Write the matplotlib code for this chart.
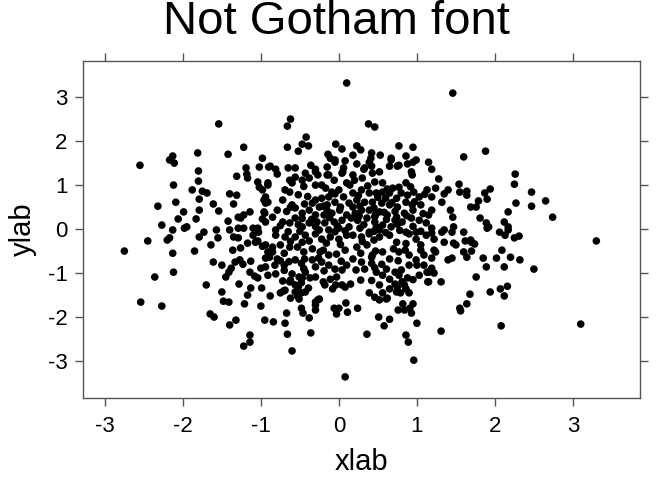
import matplotlib
matplotlib.use("Agg")
import matplotlib.pyplot as plt

# ---- data ----
x_a = [-2.75,-2.45,-2.36,-2.54,-2.27,-2.13,-2.12,-2.20,-2.17,-2.13,-2.27,-1.95,-1.98,-1.85,-1.79,-1.73,-1.64,-1.70,-1.61,-1.50,
       -1.50,-1.48,-1.41,-1.65,-1.60,-1.40,-1.32,-1.14,-1.14,-1.22,-1.28,-1.21,-1.13,-1.17,-0.99,-1.00,-0.95,-1.45,-1.41,-1.38,
       -1.33,-1.27,-1.23,-1.14,-1.13,-1.08,-1.04,-1.00,-0.91,-0.94,-1.36,-1.26,-1.17,-1.07,-0.98,-0.91,-1.35,-1.29,-1.55,-1.57,
       -1.40,-1.29,-1.22,-1.10,-1.03,-1.10,-1.04]
y_a = [-0.50,-0.27,-1.09,-1.66,-1.75,-0.55,-0.98,-0.25,-0.20,-0.02,0.09,0.05,0.02,-0.50,-0.18,-0.07,-0.36,-1.27,-0.75,-0.82,
       -1.43,-1.64,-1.66,-1.93,-2.00,-2.18,-2.07,-2.41,-2.57,-2.66,-1.25,-1.70,-1.34,-1.50,-1.34,-1.75,-2.07,-1.09,-0.98,-0.89,
       -0.75,-0.70,-0.80,-0.98,-0.73,-1.07,-1.11,-0.89,-1.05,-0.66,-0.48,-0.43,-0.32,-0.30,-0.39,-0.52,-0.18,-0.20,-0.20,-0.02,
       -0.02,0.02,0.02,0.02,-0.07,-0.14,-0.27]

x_b = [-2.55,-1.54,-1.22,-1.42,-1.81,-2.13,-2.17,-2.11,-1.80,-1.80,-2.12,-1.88,-1.75,-1.69,-2.09,-1.79,-2.32,-1.99,-1.79,-1.61,
       -1.54,-2.06,-1.83,-1.40,-1.31,-1.35,-1.31,-1.19,-1.18,-1.17,-0.98,-1.02,-1.04,-1.02,-0.98,-1.14,-0.96,-0.94,-0.91,-1.29,
       -1.26,-1.22,-1.42,-0.96,-0.98,-0.94,-1.04,-0.91,-0.90]
y_b = [1.45,2.39,1.86,1.70,1.73,1.66,1.57,1.50,1.32,1.09,1.00,0.89,0.86,0.82,0.61,0.68,0.52,0.39,0.43,0.57,
       0.41,0.23,0.23,0.80,0.77,0.57,1.20,1.39,1.25,1.16,1.61,1.41,1.07,0.95,0.89,0.39,0.66,0.59,0.61,0.27,
       0.25,0.32,0.18,0.39,0.23,0.16,0.02,1.05,1.41]

x_c = [0.10,-0.62,-0.66,0.38,0.46,-0.42,-0.47,-0.39,-0.66,-0.52,-0.04,0.04,0.23,0.28,0.77,0.95,-0.14,-0.11,-0.05,0.18,
       0.08,0.42,0.41,0.53,0.67,0.86,0.99,0.95,-0.88,-0.81,-0.79,-0.65,-0.56,-0.36,-0.30,-0.27,-0.15,-0.15,0.05,0.06,
       0.23,0.32,0.42,0.65,0.75,0.88,0.93,0.94,1.19]
y_c = [3.32,2.50,2.34,2.39,2.32,2.09,1.93,1.89,1.86,1.77,1.93,1.82,1.89,1.80,1.89,1.86,1.70,1.61,1.57,1.68,
       1.55,1.73,1.61,1.68,1.61,1.66,1.57,1.52,1.43,1.36,1.25,1.39,1.39,1.45,1.36,1.23,1.41,1.23,1.30,1.39,
       1.48,1.36,1.43,1.43,1.43,1.48,1.30,1.23,1.36]

x_d = [1.46,1.88,1.60,2.26,2.25,1.28,1.54,1.55,1.64,1.64,1.40,1.35,1.24,1.19,1.32,1.94,1.87,1.90,2.47,2.65,
       2.47,2.27,2.17,2.74,1.79,1.76,1.69,1.43,1.46,1.19,1.15,1.81,1.89,1.92,2.12,2.17,1.47,1.35]
y_d = [3.09,1.77,1.64,1.25,1.02,1.14,1.02,0.84,0.86,0.77,0.89,0.80,0.93,0.73,0.61,0.91,0.82,0.68,0.84,0.64,
       0.52,0.59,0.39,0.27,0.64,0.50,0.50,0.43,0.27,0.43,0.32,0.25,0.14,0.05,0.16,0.05,0.05,-0.02]

x_e = [3.30,3.10,2.50,2.32,2.20,2.09,2.02,2.12,1.85,1.89,1.76,2.16,2.07,2.12,1.94,1.68,1.64,1.55,1.56,2.08,
       1.31,1.31,1.15,2.25,2.31,2.13,2.17,2.06,1.90,1.60,1.70,1.74,1.69,1.62,1.70,1.64,1.60,1.47,1.45,1.40,
       1.50,1.32,1.35,1.19,1.22,1.24,1.19,1.19,1.22,1.15,1.45]
y_e = [-0.27,-2.16,-0.91,-0.70,-0.64,-0.48,-0.66,-0.86,-0.66,-0.86,-1.09,-1.30,-1.36,-1.52,-1.43,-1.48,-1.70,-1.80,-1.86,-2.20,
       -2.32,-1.20,-1.20,-0.20,-0.16,-0.14,-0.02,-0.07,0.02,-0.07,-0.30,-0.34,-0.25,-0.27,-0.50,-0.64,-0.52,-0.32,-0.66,-0.70,
       -0.36,-0.07,-0.30,-0.09,-0.48,-0.52,-0.66,-0.89,-1.00,-0.98,-0.07]

x_f = [0.08,0.96,-0.60,-0.36,-0.66,0.36,0.86,0.89,1.00,0.51,0.65,0.58,-0.84,-0.69,-0.67,-0.88,-0.38,-0.46,-0.48,-0.30,
       -0.30,-0.27,-0.06,0.00,-0.03,0.09,0.11,0.24,0.08,-0.08,-0.04,0.28,0.42,0.76,0.84,0.82,0.95,0.91,0.93,0.39,
       0.46,0.52,0.62,0.56,0.79,0.75,0.84,0.90,0.88,1.14,1.03,1.13,-0.75,-0.71,-0.62,-0.53,-0.48,-0.43,-0.39,-0.52,
       -0.62,-0.47,-0.37,-0.30]
y_f = [-3.36,-2.98,-2.77,-2.36,-2.39,-2.39,-2.41,-2.57,-2.14,-2.00,-2.05,-2.20,-2.11,-2.14,-1.91,-1.52,-2.02,-1.91,-1.80,-1.84,
       -1.73,-1.61,-1.80,-1.80,-1.93,-1.68,-1.89,-1.80,-1.32,-1.36,-1.27,-1.16,-0.64,-1.84,-1.84,-1.70,-1.70,-1.80,-1.91,-1.45,
       -1.55,-1.61,-1.57,-1.45,-1.45,-1.32,-1.27,-1.45,-1.11,-1.20,-1.05,-0.98,-1.45,-1.41,-1.57,-1.52,-1.45,-1.43,-1.34,-1.32,
       -1.16,-1.11,-1.11,-1.09]

x_g = [-0.30,-0.43,-0.56,-0.63,-0.60,-0.91,-0.69,-0.63,-0.47,-0.38,-0.30,-0.22,-0.13,-0.06,0.04,-0.05,0.10,0.00,-0.09,-0.13,
       -0.22,-0.30,-0.34,-0.25,-0.15,-0.05,0.06,0.13,0.01,-0.09,-0.19,-0.30,-0.38,-0.47,-0.56,-0.62,-0.72,-0.94,-0.95,-0.85,
       -0.79,-0.72,-0.63,-0.56,-0.47,-0.38,-0.28,-0.18,-0.06,0.04,0.10,0.00,-0.13,-0.25,0.13,-0.81]
y_g = [1.30,1.27,1.18,1.11,1.05,1.00,0.89,0.84,1.11,1.16,1.00,1.00,1.23,1.11,1.27,1.52,1.05,0.89,0.84,0.73,
       0.70,0.66,0.59,0.50,0.55,0.61,0.73,0.59,0.43,0.36,0.32,0.32,0.43,0.36,0.48,0.50,0.66,0.73,0.36,0.27,
       0.43,0.16,0.14,0.25,0.05,0.14,0.16,0.14,0.16,0.20,0.32,0.02,-0.02,-0.02,0.05,-0.02]

x_h = [0.33,0.39,0.67,0.77,1.15,0.18,0.20,0.30,0.43,0.52,0.46,0.56,0.69,0.77,0.80,0.86,0.96,1.03,1.13,1.05,
       0.94,0.86,0.74,0.65,0.56,0.48,0.39,0.29,0.18,0.23,0.33,0.43,0.55,0.65,0.75,0.84,0.74,0.62,0.52,0.39,
       0.29,0.18,0.16,0.24,0.36,0.46,0.56,0.67,0.81,0.93,1.03,1.12,1.19,0.86,0.99,0.27,0.39,0.52]
y_h = [1.39,1.52,1.57,1.45,1.52,1.23,1.11,1.16,1.27,1.30,1.07,1.05,0.93,0.95,0.82,1.05,0.84,0.73,0.89,0.55,
       0.55,0.61,0.70,0.82,0.84,0.82,0.82,0.89,0.82,0.66,0.61,0.61,0.59,0.55,0.50,0.36,0.27,0.32,0.39,0.43,
       0.43,0.50,0.25,0.20,0.25,0.16,0.09,0.05,0.16,0.25,0.20,0.14,0.02,-0.07,-0.07,0.02,-0.07,-0.02]

x_i = [-0.81,-0.69,-0.56,-0.43,-0.30,-0.22,-0.11,0.00,0.10,-0.94,-0.85,-0.75,-0.63,-0.53,-0.34,-0.24,-0.13,-0.03,0.08,-0.89,
       -0.79,-0.70,-0.82,-0.94,-0.56,-0.44,-0.34,-0.22,-0.13,-0.05,0.04,0.10,-0.60,-0.51,-0.43,-0.81,-0.63,-0.56,-0.11,-0.03,
       0.04,-0.18,-0.69,-0.56,-0.51,-0.30,-0.25]
y_i = [-0.14,-0.18,-0.18,-0.14,-0.11,-0.23,-0.18,-0.23,-0.14,-0.36,-0.41,-0.36,-0.41,-0.41,-0.45,-0.52,-0.59,-0.57,-0.48,-0.64,
       -0.68,-0.82,-0.82,-0.86,-0.70,-0.68,-0.70,-0.75,-0.82,-0.91,-0.93,-0.82,-1.02,-1.09,-0.98,-1.02,-1.20,-1.27,-1.14,-1.09,
       -1.27,-1.27,-1.39,-1.43,-1.59,-1.66,-1.59]

x_j = [0.18,0.29,0.39,0.52,0.65,0.74,0.90,0.99,1.12,1.22,0.23,0.36,0.43,0.56,0.65,0.77,0.90,0.99,1.09,0.18,
       0.29,0.33,0.55,0.61,0.48,0.90,1.09,0.56,0.65,0.77,0.81,0.52,0.65,0.74,0.86,0.61]
y_j = [-0.14,-0.18,-0.11,-0.18,-0.14,-0.30,-0.11,-0.23,-0.14,-0.23,-0.41,-0.36,-0.59,-0.52,-0.68,-0.52,-0.59,-0.70,-0.59,-0.68,
       -0.75,-0.91,-0.80,-0.91,-0.98,-0.82,-0.82,-1.05,-1.14,-1.05,-1.20,-1.27,-1.36,-1.43,-1.36,-1.59]

# dense core, estimated where the reference dots merge
x_k = [-0.45,-0.17,0.14,0.37,0.62,0.92,
       -0.52,-0.40,-0.05,0.25,0.50,0.60,0.88,1.10,
       -0.60,-0.44,-0.20,0.02,0.27,0.45,0.68,0.97,
       -0.67,-0.15,0.21,0.47,0.58,0.72,0.95,1.08,
       -0.47,-0.35,-0.12,0.26,0.46,0.61,0.72,0.87,
       -0.75,-0.52,-0.30,-0.02,0.32,0.48,0.75,0.95,
       -0.65,-0.50,-0.05,0.08,0.45,0.60,0.78,1.05,
       -0.62,-0.47,-0.38,-0.16,0.02,0.30,0.45,0.86,1.05,
       -0.85,-0.70,-0.45,-0.20,0.28,0.47,0.70,0.85,1.05,
       -0.75,-0.64,-0.48,-0.26,0.03,0.42,0.76,1.00,
       -0.70,-0.45,-0.30,-0.19,0.22,0.46,0.72,0.80,
       -0.72,-0.48,-0.20,0.15,0.42,0.72,0.95]
y_k = [0.97,0.93,1.00,0.98,0.91,0.96,
       0.78,0.74,0.80,0.76,0.72,0.70,0.77,0.79,
       0.55,0.57,0.52,0.50,0.52,0.48,0.60,0.62,
       0.40,0.42,0.36,0.33,0.38,0.40,0.43,0.35,
       0.24,0.22,0.26,0.30,0.28,0.22,0.20,0.30,
       0.08,0.10,0.06,0.07,0.10,0.05,0.11,0.06,
       -0.06,-0.05,-0.06,-0.04,-0.05,-0.08,-0.03,-0.05,
       -0.28,-0.30,-0.27,-0.32,-0.35,-0.28,-0.25,-0.33,-0.36,
       -0.52,-0.55,-0.52,-0.48,-0.55,-0.50,-0.45,-0.48,-0.48,
       -0.72,-0.74,-0.78,-0.66,-0.73,-0.78,-0.72,-0.82,
       -0.94,-0.90,-0.86,-0.95,-0.93,-0.88,-0.98,-0.93,
       -1.18,-1.22,-1.20,-1.25,-1.17,-1.25,-1.15]

xs = x_a + x_b + x_c + x_d + x_e + x_f + x_g + x_h + x_i + x_j + x_k
ys = y_a + y_b + y_c + y_d + y_e + y_f + y_g + y_h + y_i + y_j + y_k

x_ticks = [-3, -2, -1, 0, 1, 2, 3]
y_ticks = [-3, -2, -1, 0, 1, 2, 3]
title = "Not Gotham font"
xlabel = "xlab"
ylabel = "ylab"

plt.rcParams['font.family'] = ['Liberation Sans', 'DejaVu Sans']

fig = plt.figure(figsize=(6.72, 4.8), dpi=100)
ax = fig.add_axes([83/672, 1-398/480, (640-83)/672, (398-61)/480])
ax.scatter(xs, ys, s=30, c='black', edgecolors='none')

ax.set_xlim(-3.28, 3.86)
ax.set_ylim(-3.84, 3.82)
ax.set_xticks(x_ticks)
ax.set_yticks(y_ticks)
ax.set_xticklabels([str(v) for v in x_ticks])
ax.set_yticklabels([str(v) for v in y_ticks])
ax.tick_params(axis='both', direction='out', length=6, width=1, color='#555555',
               labelsize=16, top=True, right=True, labeltop=False, labelright=False)
ax.tick_params(axis='x', pad=7)
ax.tick_params(axis='y', pad=5)
for sp in ax.spines.values():
    sp.set_color('#555555')
    sp.set_linewidth(1)

ax.set_xlabel(xlabel, fontsize=21, labelpad=8)
ax.set_ylabel(ylabel, fontsize=21, labelpad=8)
fig.suptitle(title, fontsize=34, x=0.5, y=1.0, va='top')

fig.savefig("out.png", dpi=100)
